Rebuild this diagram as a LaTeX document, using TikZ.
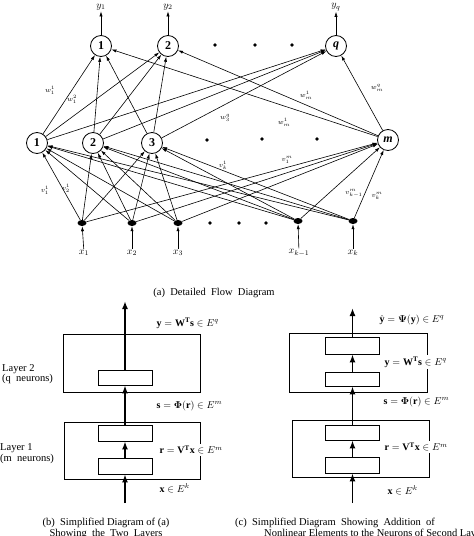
\documentclass[tikz,border=0pt]{standalone}
\usepackage{amsmath}
\usepackage{fontspec}
\setmainfont{Liberation Serif}
\usetikzlibrary{arrows.meta,shapes.geometric}
\begin{document}
\begin{tikzpicture}[x=1pt,y=-1pt,
  neuron/.style={circle,draw,line width=0.8pt,minimum size=21pt,inner sep=0pt,font=\large\bfseries},
  inp/.style={ellipse,fill=black,minimum width=9pt,minimum height=6pt,inner sep=0pt},
  conn/.style={line width=0.6pt,-{Latex[length=5pt,width=3.2pt]}},
  wlab/.style={font=\scriptsize,inner sep=0.5pt},
  toplab/.style={font=\normalsize,inner sep=1pt},
  dotmark/.style={circle,fill=black,inner sep=0pt,minimum size=3.6pt},
  bigarrow/.style={line width=1.6pt,-{Latex[length=8pt,width=6pt]}},
  outerbox/.style={draw,line width=0.8pt,inner sep=0pt},
  innerbox/.style={draw,line width=0.8pt,minimum width=54pt,minimum height=15pt,inner sep=0pt},
  eqlab/.style={fill=white,inner sep=1.5pt,font=\normalsize},
  txt/.style={font=\fontsize{10.5}{10.5}\selectfont,inner sep=0pt}
]
\useasboundingbox (0,0) rectangle (474,536);

% ---------- (a) detailed flow diagram ----------
\node[neuron] (o1) at (101,46) {1};
\node[neuron] (o2) at (168,46) {2};
\node[neuron] (oq) at (336,46) {\textit{q}};
\node[neuron] (h1) at (37,143) {1};
\node[neuron] (h2) at (93,143) {2};
\node[neuron] (h3) at (152,143) {3};
\node[neuron] (hm) at (388,140) {\textit{m}};
\node[inp] (i1) at (82,223) {};
\node[inp] (i2) at (132,223) {};
\node[inp] (i3) at (178,223) {};
\node[inp] (ik1) at (298,221) {};
\node[inp] (ik) at (353,221) {};

\node[toplab] (y1) at (101,7) {$y_1$};
\node[toplab] (y2) at (168,7) {$y_2$};
\node[toplab] (yq) at (336,7) {$y_q$};
\draw[conn] (o1) -- (y1);
\draw[conn] (o2) -- (y2);
\draw[conn] (oq) -- (yq);

\node[toplab] (x1) at (84,253) {$x_1$};
\node[toplab] (x2) at (132,253) {$x_2$};
\node[toplab] (x3) at (178,253) {$x_3$};
\node[toplab] (xk1) at (299,253) {$x_{k-1}$};
\node[toplab] (xk) at (353,253) {$x_k$};
\foreach \a/\b in {x1/i1,x2/i2,x3/i3,xk1/ik1,xk/ik}
  \draw[conn] (\a) -- (\b);

\foreach \h in {h1,h2,h3,hm}
  \foreach \o in {o1,o2,oq}
    \draw[conn] (\h) -- (\o);
\foreach \i in {i1,i2,i3,ik1,ik}
  \foreach \h in {h1,h2,h3,hm}
    \draw[conn] (\i) -- (\h);

\foreach \p [count=\n] in {(215,45),(255,45),(292,45),(207,140),(262,139),(317,139),(210,223),(239,223),(266,223)}
  \node[dotmark] (d\n) at \p {};

\node[wlab] (lw11) at (50,90) {$w_1^1$};
\node[wlab] (lw12) at (72,99) {$w_1^2$};
\node[wlab] (lw3q) at (225,118) {$w_3^q$};
\node[wlab] (lwm1a) at (306,95) {$w_m^1$};
\node[wlab] (lwm1b) at (284,122) {$w_m^1$};
\node[wlab] (lwmq) at (377,88) {$w_m^q$};
\node[wlab] (lv11) at (45,190) {$v_1^1$};
\node[wlab] (lv21) at (66,188) {$v_2^1$};
\node[wlab] (lvk1) at (223,165) {$v_k^1$};
\node[wlab] (lv1m) at (287,160) {$v_1^m$};
\node[wlab] (lvk1m) at (354,193) {$v_{k-1}^m$};
\node[wlab] (lvkm) at (377,196) {$v_k^m$};

\node[txt] (capa) at (214,293) {(a)\ \ Detailed\ \ Flow\ \ Diagram};

% ---------- (b) ----------
\node[outerbox,minimum width=137pt,minimum height=58pt] (b2) at (131.5,363) {};
\node[outerbox,minimum width=136pt,minimum height=57pt] (b1) at (132,450.5) {};
\node[innerbox] (b2i) at (125,377.5) {};
\node[innerbox,minimum height=16pt] (b1u) at (125,433) {};
\node[innerbox,minimum height=16pt] (b1l) at (125,466) {};
\coordinate (bin) at (125,503);
\coordinate (bout) at (125,301);
\draw[bigarrow] (bin) -- (b1l.south);
\draw[bigarrow] (b1l) -- (b1u);
\draw[bigarrow] (b1u) -- (b2i);
\draw[bigarrow] (b2i) -- (bout);

\node[eqlab,anchor=west] (bq1) at (155,323) {$\mathbf{y}=\mathbf{W}^{\mathbf{T}}\mathbf{s}\in E^q$};
\node[eqlab,anchor=west] (bq2) at (155,406) {$\mathbf{s}=\boldsymbol{\Phi}(\mathbf{r})\in E^m$};
\node[eqlab,anchor=west] (bq3) at (158,450) {$\mathbf{r}=\mathbf{V}^{\mathbf{T}}\mathbf{x}\in E^m$};
\node[eqlab,anchor=west] (bq4) at (158,488) {$\mathbf{x}\in E^k$};

\node[txt,anchor=west,align=left] (lay2) at (2,374) {Layer 2\\(q\ \ neurons)};
\node[txt,anchor=west,align=left] (lay1) at (0,453.5) {Layer 1\\(m\ \ neurons)};

\node[txt] (capb1) at (106,523) {(b)\ \ Simplified Diagram of (a)};
\node[txt] (capb2) at (106,534) {Showing\ \ the\ \ Two\ \ Layers};

% ---------- (c) ----------
\node[outerbox,minimum width=138pt,minimum height=59pt] (c2) at (358,362.5) {};
\node[outerbox,minimum width=137pt,minimum height=57pt] (c1) at (360.5,448.5) {};
\node[innerbox,minimum height=17pt] (c2u) at (352.5,345.5) {};
\node[innerbox,minimum height=14pt] (c2l) at (352.5,379) {};
\node[innerbox] (c1u) at (352.5,432.5) {};
\node[innerbox,minimum height=16pt] (c1l) at (352.5,465) {};
\coordinate (cin) at (352.5,503);
\coordinate (cout) at (352.5,308);
\draw[bigarrow] (cin) -- (c1l.south);
\draw[bigarrow] (c1l) -- (c1u);
\draw[bigarrow] (c1u) -- (c2l);
\draw[bigarrow] (c2l) -- (c2u);
\draw[bigarrow] (c2u) -- (cout);

\node[eqlab,anchor=west] (cq0) at (378,320) {$\hat{\mathbf{y}}=\boldsymbol{\Psi}(\mathbf{y})\in E^q$};
\node[eqlab,anchor=west] (cq1) at (383,362) {$\mathbf{y}=\mathbf{W}^{\mathbf{T}}\mathbf{s}\in E^q$};
\node[eqlab,anchor=west] (cq2) at (382,402) {$\mathbf{s}=\boldsymbol{\Phi}(\mathbf{r})\in E^m$};
\node[eqlab,anchor=west] (cq3) at (383,447) {$\mathbf{r}=\mathbf{V}^{\mathbf{T}}\mathbf{x}\in E^m$};
\node[eqlab,anchor=west] (cq4) at (386,490) {$\mathbf{x}\in E^k$};

\node[txt,anchor=west] (capc1) at (235,523) {(c)\ \ Simplified Diagram\ \ Showing\ \ Addition\ \ of};
\node[txt,anchor=west] (capc2) at (264,534) {Nonlinear Elements to the Neurons of Second Layer};
\end{tikzpicture}
\end{document}
